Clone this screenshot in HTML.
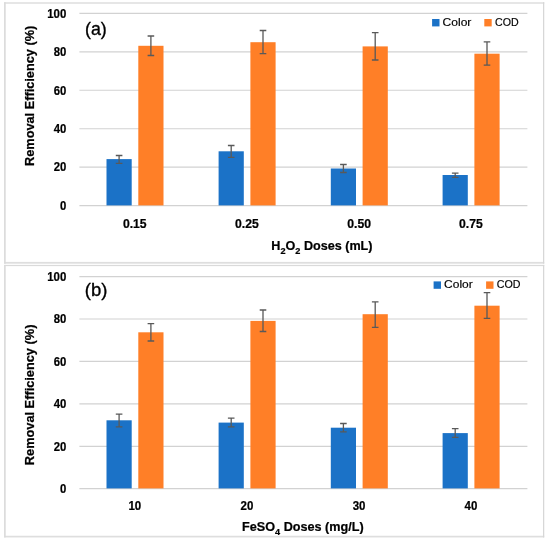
<!DOCTYPE html>
<html lang="en"><head><meta charset="utf-8"><title>Removal Efficiency</title>
<style>html,body{margin:0;padding:0;background:#fff}svg{display:block}</style></head><body>
<svg width="550" height="541" viewBox="0 0 550 541">
<rect width="550" height="541" fill="#fff"/>
<rect x="4.05" y="2.15" width="540.2" height="1.7" fill="#e2e2e2"/>
<rect x="4.05" y="261.90" width="540.2" height="1.8" fill="#dedede"/>
<rect x="4.05" y="2.15" width="1.65" height="261.55" fill="#dbdbdb"/>
<rect x="543.05" y="2.15" width="1.2" height="261.55" fill="#d6d6d6"/>
<rect x="4.05" y="264.90" width="540.2" height="1.2" fill="#dadada"/>
<rect x="4.05" y="535.75" width="540.2" height="1.7" fill="#dedede"/>
<rect x="4.05" y="264.90" width="1.65" height="272.55" fill="#dbdbdb"/>
<rect x="543.05" y="264.90" width="1.2" height="272.55" fill="#d6d6d6"/>
<line x1="79.4" x2="527.4" y1="13.30" y2="13.30" stroke="#d2d2d2" stroke-width="1.2"/>
<line x1="79.4" x2="527.4" y1="51.78" y2="51.78" stroke="#d2d2d2" stroke-width="1.2"/>
<line x1="79.4" x2="527.4" y1="90.26" y2="90.26" stroke="#d2d2d2" stroke-width="1.2"/>
<line x1="79.4" x2="527.4" y1="128.74" y2="128.74" stroke="#d2d2d2" stroke-width="1.2"/>
<line x1="79.4" x2="527.4" y1="167.22" y2="167.22" stroke="#d2d2d2" stroke-width="1.2"/>
<line x1="79.4" x2="527.4" y1="205.70" y2="205.70" stroke="#d2d2d2" stroke-width="1.2"/>
<text x="47.20" y="17.55" font-family="'Liberation Sans', sans-serif" font-weight="bold" stroke="#000" stroke-width="0.22" font-size="12" textLength="19.1" lengthAdjust="spacingAndGlyphs" fill="#000">100</text>
<text x="53.70" y="56.03" font-family="'Liberation Sans', sans-serif" font-weight="bold" stroke="#000" stroke-width="0.22" font-size="12" textLength="12.6" lengthAdjust="spacingAndGlyphs" fill="#000">80</text>
<text x="53.70" y="94.51" font-family="'Liberation Sans', sans-serif" font-weight="bold" stroke="#000" stroke-width="0.22" font-size="12" textLength="12.6" lengthAdjust="spacingAndGlyphs" fill="#000">60</text>
<text x="53.70" y="132.99" font-family="'Liberation Sans', sans-serif" font-weight="bold" stroke="#000" stroke-width="0.22" font-size="12" textLength="12.6" lengthAdjust="spacingAndGlyphs" fill="#000">40</text>
<text x="53.70" y="171.47" font-family="'Liberation Sans', sans-serif" font-weight="bold" stroke="#000" stroke-width="0.22" font-size="12" textLength="12.6" lengthAdjust="spacingAndGlyphs" fill="#000">20</text>
<text x="60.00" y="209.95" font-family="'Liberation Sans', sans-serif" font-weight="bold" stroke="#000" stroke-width="0.22" font-size="12" textLength="6.3" lengthAdjust="spacingAndGlyphs" fill="#000">0</text>
<rect x="106.50" y="159.10" width="25.2" height="46.30" fill="#1b72c7"/>
<rect x="138.30" y="45.80" width="25.2" height="159.60" fill="#ff7f27"/>
<path d="M119.10 155.50V163.40M115.80 155.50h6.6M115.80 163.40h6.6" stroke="#595959" stroke-width="1.3" fill="none"/>
<path d="M150.90 36.00V55.50M147.60 36.00h6.6M147.60 55.50h6.6" stroke="#595959" stroke-width="1.3" fill="none"/>
<rect x="218.60" y="151.30" width="25.2" height="54.10" fill="#1b72c7"/>
<rect x="250.40" y="42.20" width="25.2" height="163.20" fill="#ff7f27"/>
<path d="M231.20 145.50V157.30M227.90 145.50h6.6M227.90 157.30h6.6" stroke="#595959" stroke-width="1.3" fill="none"/>
<path d="M263.00 30.50V53.60M259.70 30.50h6.6M259.70 53.60h6.6" stroke="#595959" stroke-width="1.3" fill="none"/>
<rect x="330.80" y="168.50" width="25.2" height="36.90" fill="#1b72c7"/>
<rect x="362.60" y="46.40" width="25.2" height="159.00" fill="#ff7f27"/>
<path d="M343.40 164.50V172.50M340.10 164.50h6.6M340.10 172.50h6.6" stroke="#595959" stroke-width="1.3" fill="none"/>
<path d="M375.20 32.70V60.00M371.90 32.70h6.6M371.90 60.00h6.6" stroke="#595959" stroke-width="1.3" fill="none"/>
<rect x="442.60" y="175.00" width="25.2" height="30.40" fill="#1b72c7"/>
<rect x="474.40" y="53.70" width="25.2" height="151.70" fill="#ff7f27"/>
<path d="M455.20 173.20V177.30M451.90 173.20h6.6M451.90 177.30h6.6" stroke="#595959" stroke-width="1.3" fill="none"/>
<path d="M487.00 41.80V65.20M483.70 41.80h6.6M483.70 65.20h6.6" stroke="#595959" stroke-width="1.3" fill="none"/>
<text x="122.95" y="227.5" font-family="'Liberation Sans', sans-serif" font-weight="bold" stroke="#000" stroke-width="0.22" font-size="12" textLength="23.7" lengthAdjust="spacingAndGlyphs" fill="#000">0.15</text>
<text x="235.05" y="227.5" font-family="'Liberation Sans', sans-serif" font-weight="bold" stroke="#000" stroke-width="0.22" font-size="12" textLength="23.7" lengthAdjust="spacingAndGlyphs" fill="#000">0.25</text>
<text x="347.25" y="227.5" font-family="'Liberation Sans', sans-serif" font-weight="bold" stroke="#000" stroke-width="0.22" font-size="12" textLength="23.7" lengthAdjust="spacingAndGlyphs" fill="#000">0.50</text>
<text x="459.05" y="227.5" font-family="'Liberation Sans', sans-serif" font-weight="bold" stroke="#000" stroke-width="0.22" font-size="12" textLength="23.7" lengthAdjust="spacingAndGlyphs" fill="#000">0.75</text>
<text x="85.0" y="34.6" font-family="'Liberation Sans', sans-serif" font-size="19" textLength="21.8" lengthAdjust="spacingAndGlyphs" fill="#000" stroke="#000" stroke-width="0.35">(a)</text>
<rect x="432.1" y="19.0" width="7.4" height="7.4" fill="#1b72c7"/>
<text x="442.6" y="26.2" font-family="'Liberation Sans', sans-serif" font-size="11.4" textLength="28.8" lengthAdjust="spacingAndGlyphs" fill="#000" stroke="#000" stroke-width="0.18">Color</text>
<rect x="484.3" y="19.0" width="7.4" height="7.4" fill="#ff7f27"/>
<text x="495.0" y="26.2" font-family="'Liberation Sans', sans-serif" font-size="11.4" textLength="23.6" lengthAdjust="spacingAndGlyphs" fill="#000" stroke="#000" stroke-width="0.18">COD</text>
<text transform="translate(34.3 166.0) rotate(-90)" x="0" y="0" font-family="'Liberation Sans', sans-serif" font-weight="bold" stroke="#000" stroke-width="0.22" font-size="12.4" textLength="140.3" lengthAdjust="spacingAndGlyphs" fill="#000">Removal Efficiency (%)</text>
<text x="271.3" y="249.8" font-family="'Liberation Sans', sans-serif" font-weight="bold" stroke="#000" stroke-width="0.22" font-size="12.4" textLength="101.2" lengthAdjust="spacingAndGlyphs" fill="#000">H<tspan font-size="9" dy="4.2">2</tspan><tspan dy="-4.2">O</tspan><tspan font-size="9" dy="4.2">2</tspan><tspan dy="-4.2"> Doses (mL)</tspan></text>
<line x1="79.4" x2="527.4" y1="276.60" y2="276.60" stroke="#d2d2d2" stroke-width="1.2"/>
<line x1="79.4" x2="527.4" y1="319.02" y2="319.02" stroke="#d2d2d2" stroke-width="1.2"/>
<line x1="79.4" x2="527.4" y1="361.44" y2="361.44" stroke="#d2d2d2" stroke-width="1.2"/>
<line x1="79.4" x2="527.4" y1="403.86" y2="403.86" stroke="#d2d2d2" stroke-width="1.2"/>
<line x1="79.4" x2="527.4" y1="446.28" y2="446.28" stroke="#d2d2d2" stroke-width="1.2"/>
<line x1="79.4" x2="527.4" y1="488.70" y2="488.70" stroke="#d2d2d2" stroke-width="1.2"/>
<text x="47.20" y="280.85" font-family="'Liberation Sans', sans-serif" font-weight="bold" stroke="#000" stroke-width="0.22" font-size="12" textLength="19.1" lengthAdjust="spacingAndGlyphs" fill="#000">100</text>
<text x="53.70" y="323.27" font-family="'Liberation Sans', sans-serif" font-weight="bold" stroke="#000" stroke-width="0.22" font-size="12" textLength="12.6" lengthAdjust="spacingAndGlyphs" fill="#000">80</text>
<text x="53.70" y="365.69" font-family="'Liberation Sans', sans-serif" font-weight="bold" stroke="#000" stroke-width="0.22" font-size="12" textLength="12.6" lengthAdjust="spacingAndGlyphs" fill="#000">60</text>
<text x="53.70" y="408.11" font-family="'Liberation Sans', sans-serif" font-weight="bold" stroke="#000" stroke-width="0.22" font-size="12" textLength="12.6" lengthAdjust="spacingAndGlyphs" fill="#000">40</text>
<text x="53.70" y="450.53" font-family="'Liberation Sans', sans-serif" font-weight="bold" stroke="#000" stroke-width="0.22" font-size="12" textLength="12.6" lengthAdjust="spacingAndGlyphs" fill="#000">20</text>
<text x="60.00" y="492.95" font-family="'Liberation Sans', sans-serif" font-weight="bold" stroke="#000" stroke-width="0.22" font-size="12" textLength="6.3" lengthAdjust="spacingAndGlyphs" fill="#000">0</text>
<rect x="106.50" y="420.30" width="25.2" height="68.10" fill="#1b72c7"/>
<rect x="138.30" y="332.30" width="25.2" height="156.10" fill="#ff7f27"/>
<path d="M119.10 414.20V426.80M115.80 414.20h6.6M115.80 426.80h6.6" stroke="#595959" stroke-width="1.3" fill="none"/>
<path d="M150.90 323.60V341.00M147.60 323.60h6.6M147.60 341.00h6.6" stroke="#595959" stroke-width="1.3" fill="none"/>
<rect x="218.60" y="422.60" width="25.2" height="65.80" fill="#1b72c7"/>
<rect x="250.40" y="320.90" width="25.2" height="167.50" fill="#ff7f27"/>
<path d="M231.20 418.10V426.80M227.90 418.10h6.6M227.90 426.80h6.6" stroke="#595959" stroke-width="1.3" fill="none"/>
<path d="M263.00 310.00V331.50M259.70 310.00h6.6M259.70 331.50h6.6" stroke="#595959" stroke-width="1.3" fill="none"/>
<rect x="330.80" y="427.70" width="25.2" height="60.70" fill="#1b72c7"/>
<rect x="362.60" y="314.20" width="25.2" height="174.20" fill="#ff7f27"/>
<path d="M343.40 423.50V431.80M340.10 423.50h6.6M340.10 431.80h6.6" stroke="#595959" stroke-width="1.3" fill="none"/>
<path d="M375.20 301.80V327.30M371.90 301.80h6.6M371.90 327.30h6.6" stroke="#595959" stroke-width="1.3" fill="none"/>
<rect x="442.60" y="433.10" width="25.2" height="55.30" fill="#1b72c7"/>
<rect x="474.40" y="305.70" width="25.2" height="182.70" fill="#ff7f27"/>
<path d="M455.20 428.70V437.30M451.90 428.70h6.6M451.90 437.30h6.6" stroke="#595959" stroke-width="1.3" fill="none"/>
<path d="M487.00 292.70V318.30M483.70 292.70h6.6M483.70 318.30h6.6" stroke="#595959" stroke-width="1.3" fill="none"/>
<text x="128.40" y="510.2" font-family="'Liberation Sans', sans-serif" font-weight="bold" stroke="#000" stroke-width="0.22" font-size="12" textLength="12.8" lengthAdjust="spacingAndGlyphs" fill="#000">10</text>
<text x="240.50" y="510.2" font-family="'Liberation Sans', sans-serif" font-weight="bold" stroke="#000" stroke-width="0.22" font-size="12" textLength="12.8" lengthAdjust="spacingAndGlyphs" fill="#000">20</text>
<text x="352.70" y="510.2" font-family="'Liberation Sans', sans-serif" font-weight="bold" stroke="#000" stroke-width="0.22" font-size="12" textLength="12.8" lengthAdjust="spacingAndGlyphs" fill="#000">30</text>
<text x="464.50" y="510.2" font-family="'Liberation Sans', sans-serif" font-weight="bold" stroke="#000" stroke-width="0.22" font-size="12" textLength="12.8" lengthAdjust="spacingAndGlyphs" fill="#000">40</text>
<text x="84.8" y="295.9" font-family="'Liberation Sans', sans-serif" font-size="19" textLength="22.6" lengthAdjust="spacingAndGlyphs" fill="#000" stroke="#000" stroke-width="0.35">(b)</text>
<rect x="433.6" y="281.4" width="7.4" height="7.4" fill="#1b72c7"/>
<text x="444.1" y="288.3" font-family="'Liberation Sans', sans-serif" font-size="11.4" textLength="28.6" lengthAdjust="spacingAndGlyphs" fill="#000" stroke="#000" stroke-width="0.18">Color</text>
<rect x="486.1" y="281.4" width="7.4" height="7.4" fill="#ff7f27"/>
<text x="496.8" y="288.3" font-family="'Liberation Sans', sans-serif" font-size="11.4" textLength="23.7" lengthAdjust="spacingAndGlyphs" fill="#000" stroke="#000" stroke-width="0.18">COD</text>
<text transform="translate(34.3 465.2) rotate(-90)" x="0" y="0" font-family="'Liberation Sans', sans-serif" font-weight="bold" stroke="#000" stroke-width="0.22" font-size="12.4" textLength="140.6" lengthAdjust="spacingAndGlyphs" fill="#000">Removal Efficiency (%)</text>
<text x="242.0" y="530.6" font-family="'Liberation Sans', sans-serif" font-weight="bold" stroke="#000" stroke-width="0.22" font-size="12.4" textLength="121.7" lengthAdjust="spacingAndGlyphs" fill="#000">FeSO<tspan font-size="9" dy="4.2">4</tspan><tspan dy="-4.2"> Doses (mg/L)</tspan></text>
</svg></body></html>
